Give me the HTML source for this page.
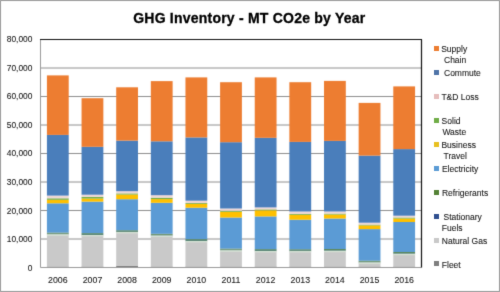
<!DOCTYPE html>
<html><head><meta charset="utf-8"><style>
html,body{margin:0;padding:0;background:#fff;}
body{width:500px;height:292px;position:relative;overflow:hidden;font-family:"Liberation Sans",sans-serif;}
#wrap{position:absolute;left:0;top:0;width:500px;height:292px;background:#fff;filter:url(#bl);}
#txt{position:absolute;left:0;top:0;width:500px;height:292px;filter:url(#bt);}
#frame{position:absolute;left:0;top:0;width:498px;height:290px;border:1px solid #8C8C8C;}
svg.c{position:absolute;left:0;top:0;}
.title{position:absolute;left:0;width:500px;top:9px;height:18px;line-height:18px;font-weight:bold;font-size:14px;letter-spacing:0.22px;color:#000;-webkit-text-stroke:0.3px #000;white-space:nowrap;}
.title span{position:absolute;left:133.2px;}
.yl{position:absolute;-webkit-text-stroke:0.1px #1C1C1C;left:0;width:32.4px;text-align:right;font-size:8.4px;line-height:12px;height:12px;color:#1C1C1C;}
.xl{position:absolute;-webkit-text-stroke:0.1px #1C1C1C;top:273.6px;width:30px;text-align:center;font-size:8.8px;line-height:12px;color:#1C1C1C;}
.sq{position:absolute;left:434.2px;width:5px;height:5px;}
.lg{position:absolute;-webkit-text-stroke:0.1px #1C1C1C;font-size:8.5px;line-height:10px;color:#1C1C1C;white-space:nowrap;}
</style></head><body>
<svg width="0" height="0" style="position:absolute"><defs><filter id="bl" x="0" y="0" width="500" height="292" filterUnits="userSpaceOnUse"><feConvolveMatrix color-interpolation-filters="sRGB" order="3" kernelMatrix="0.0144 0.0912 0.0144 0.0912 0.5776 0.0912 0.0144 0.0912 0.0144" edgeMode="none"/></filter><filter id="bt" x="0" y="0" width="500" height="292" filterUnits="userSpaceOnUse"><feConvolveMatrix color-interpolation-filters="sRGB" order="3" kernelMatrix="0.0100 0.0800 0.0100 0.0800 0.6400 0.0800 0.0100 0.0800 0.0100" edgeMode="none"/></filter></defs></svg>
<div id="wrap">
<div id="frame"></div>
<svg class="c" width="500" height="292" viewBox="0 0 500 292">
<line x1="40.5" y1="68.00" x2="421.5" y2="68.00" stroke="#8E8E8E" stroke-width="1"/>
<line x1="40.5" y1="96.50" x2="421.5" y2="96.50" stroke="#8E8E8E" stroke-width="1"/>
<line x1="40.5" y1="125.00" x2="421.5" y2="125.00" stroke="#8E8E8E" stroke-width="1"/>
<line x1="40.5" y1="153.50" x2="421.5" y2="153.50" stroke="#8E8E8E" stroke-width="1"/>
<line x1="40.5" y1="182.00" x2="421.5" y2="182.00" stroke="#8E8E8E" stroke-width="1"/>
<line x1="40.5" y1="210.50" x2="421.5" y2="210.50" stroke="#8E8E8E" stroke-width="1"/>
<line x1="40.5" y1="239.00" x2="421.5" y2="239.00" stroke="#8E8E8E" stroke-width="1"/>
<rect x="46.92" y="266.50" width="21.8" height="1.00" fill="#7F7F7F"/>
<rect x="46.92" y="234.40" width="21.8" height="32.10" fill="#C9C9C9"/>
<rect x="46.92" y="233.50" width="21.8" height="0.90" fill="#4A7A70"/>
<rect x="46.92" y="232.60" width="21.8" height="0.90" fill="#4A7C48"/>
<rect x="46.92" y="203.30" width="21.8" height="29.30" fill="#5B9BD5"/>
<rect x="46.92" y="199.80" width="21.8" height="3.50" fill="#FFC000"/>
<rect x="46.92" y="198.30" width="21.8" height="1.50" fill="#70AD47"/>
<rect x="46.92" y="195.60" width="21.8" height="2.70" fill="#F0D8D6"/>
<rect x="46.92" y="134.90" width="21.8" height="60.70" fill="#4A7EBB"/>
<rect x="46.92" y="75.40" width="21.8" height="59.50" fill="#ED7D31"/>
<rect x="46.92" y="234.40" width="21.8" height="1.30" fill="#D8E4D6"/>
<rect x="81.55" y="266.50" width="21.8" height="1.00" fill="#7F7F7F"/>
<rect x="81.55" y="235.00" width="21.8" height="31.50" fill="#C9C9C9"/>
<rect x="81.55" y="234.10" width="21.8" height="0.90" fill="#4A7A70"/>
<rect x="81.55" y="233.20" width="21.8" height="0.90" fill="#4A7C48"/>
<rect x="81.55" y="201.60" width="21.8" height="31.60" fill="#5B9BD5"/>
<rect x="81.55" y="198.50" width="21.8" height="3.10" fill="#FFC000"/>
<rect x="81.55" y="196.90" width="21.8" height="1.60" fill="#70AD47"/>
<rect x="81.55" y="194.70" width="21.8" height="2.20" fill="#F0D8D6"/>
<rect x="81.55" y="146.80" width="21.8" height="47.90" fill="#4A7EBB"/>
<rect x="81.55" y="98.20" width="21.8" height="48.60" fill="#ED7D31"/>
<rect x="81.55" y="235.00" width="21.8" height="1.30" fill="#D8E4D6"/>
<rect x="116.19" y="265.70" width="21.8" height="1.80" fill="#7F7F7F"/>
<rect x="116.19" y="232.10" width="21.8" height="33.60" fill="#C9C9C9"/>
<rect x="116.19" y="231.20" width="21.8" height="0.90" fill="#4A7A70"/>
<rect x="116.19" y="230.30" width="21.8" height="0.90" fill="#4A7C48"/>
<rect x="116.19" y="199.20" width="21.8" height="31.10" fill="#5B9BD5"/>
<rect x="116.19" y="194.50" width="21.8" height="4.70" fill="#FFC000"/>
<rect x="116.19" y="193.40" width="21.8" height="1.10" fill="#70AD47"/>
<rect x="116.19" y="191.20" width="21.8" height="2.20" fill="#F0D8D6"/>
<rect x="116.19" y="140.60" width="21.8" height="50.60" fill="#4A7EBB"/>
<rect x="116.19" y="87.30" width="21.8" height="53.30" fill="#ED7D31"/>
<rect x="116.19" y="232.10" width="21.8" height="1.30" fill="#D8E4D6"/>
<rect x="150.83" y="266.50" width="21.8" height="1.00" fill="#7F7F7F"/>
<rect x="150.83" y="235.60" width="21.8" height="30.90" fill="#C9C9C9"/>
<rect x="150.83" y="234.70" width="21.8" height="0.90" fill="#4A7A70"/>
<rect x="150.83" y="233.80" width="21.8" height="0.90" fill="#4A7C48"/>
<rect x="150.83" y="202.80" width="21.8" height="31.00" fill="#5B9BD5"/>
<rect x="150.83" y="199.10" width="21.8" height="3.70" fill="#FFC000"/>
<rect x="150.83" y="197.70" width="21.8" height="1.40" fill="#70AD47"/>
<rect x="150.83" y="195.20" width="21.8" height="2.50" fill="#F0D8D6"/>
<rect x="150.83" y="141.30" width="21.8" height="53.90" fill="#4A7EBB"/>
<rect x="150.83" y="81.10" width="21.8" height="60.20" fill="#ED7D31"/>
<rect x="150.83" y="235.60" width="21.8" height="1.30" fill="#D8E4D6"/>
<rect x="185.46" y="266.50" width="21.8" height="1.00" fill="#7F7F7F"/>
<rect x="185.46" y="241.00" width="21.8" height="25.50" fill="#C9C9C9"/>
<rect x="185.46" y="240.10" width="21.8" height="0.90" fill="#4A7A70"/>
<rect x="185.46" y="239.20" width="21.8" height="0.90" fill="#4A7C48"/>
<rect x="185.46" y="207.70" width="21.8" height="31.50" fill="#5B9BD5"/>
<rect x="185.46" y="204.00" width="21.8" height="3.70" fill="#FFC000"/>
<rect x="185.46" y="203.10" width="21.8" height="0.90" fill="#70AD47"/>
<rect x="185.46" y="200.70" width="21.8" height="2.40" fill="#F0D8D6"/>
<rect x="185.46" y="137.40" width="21.8" height="63.30" fill="#4A7EBB"/>
<rect x="185.46" y="77.40" width="21.8" height="60.00" fill="#ED7D31"/>
<rect x="185.46" y="241.00" width="21.8" height="1.30" fill="#D8E4D6"/>
<rect x="220.10" y="266.50" width="21.8" height="1.00" fill="#7F7F7F"/>
<rect x="220.10" y="250.40" width="21.8" height="16.10" fill="#C9C9C9"/>
<rect x="220.10" y="249.50" width="21.8" height="0.90" fill="#4A7A70"/>
<rect x="220.10" y="248.60" width="21.8" height="0.90" fill="#4A7C48"/>
<rect x="220.10" y="217.50" width="21.8" height="31.10" fill="#5B9BD5"/>
<rect x="220.10" y="211.80" width="21.8" height="5.70" fill="#FFC000"/>
<rect x="220.10" y="210.80" width="21.8" height="1.00" fill="#70AD47"/>
<rect x="220.10" y="208.50" width="21.8" height="2.30" fill="#F0D8D6"/>
<rect x="220.10" y="142.20" width="21.8" height="66.30" fill="#4A7EBB"/>
<rect x="220.10" y="82.20" width="21.8" height="60.00" fill="#ED7D31"/>
<rect x="220.10" y="250.40" width="21.8" height="1.30" fill="#D8E4D6"/>
<rect x="254.74" y="266.50" width="21.8" height="1.00" fill="#7F7F7F"/>
<rect x="254.74" y="251.00" width="21.8" height="15.50" fill="#C9C9C9"/>
<rect x="254.74" y="250.10" width="21.8" height="0.90" fill="#4A7A70"/>
<rect x="254.74" y="249.20" width="21.8" height="0.90" fill="#4A7C48"/>
<rect x="254.74" y="216.40" width="21.8" height="32.80" fill="#5B9BD5"/>
<rect x="254.74" y="210.30" width="21.8" height="6.10" fill="#FFC000"/>
<rect x="254.74" y="209.40" width="21.8" height="0.90" fill="#70AD47"/>
<rect x="254.74" y="207.40" width="21.8" height="2.00" fill="#F0D8D6"/>
<rect x="254.74" y="137.80" width="21.8" height="69.60" fill="#4A7EBB"/>
<rect x="254.74" y="77.40" width="21.8" height="60.40" fill="#ED7D31"/>
<rect x="254.74" y="251.00" width="21.8" height="1.30" fill="#D8E4D6"/>
<rect x="289.37" y="266.50" width="21.8" height="1.00" fill="#7F7F7F"/>
<rect x="289.37" y="251.10" width="21.8" height="15.40" fill="#C9C9C9"/>
<rect x="289.37" y="250.20" width="21.8" height="0.90" fill="#4A7A70"/>
<rect x="289.37" y="249.30" width="21.8" height="0.90" fill="#4A7C48"/>
<rect x="289.37" y="219.70" width="21.8" height="29.60" fill="#5B9BD5"/>
<rect x="289.37" y="214.80" width="21.8" height="4.90" fill="#FFC000"/>
<rect x="289.37" y="214.00" width="21.8" height="0.80" fill="#70AD47"/>
<rect x="289.37" y="211.50" width="21.8" height="2.50" fill="#F0D8D6"/>
<rect x="289.37" y="141.90" width="21.8" height="69.60" fill="#4A7EBB"/>
<rect x="289.37" y="82.20" width="21.8" height="59.70" fill="#ED7D31"/>
<rect x="289.37" y="251.10" width="21.8" height="1.30" fill="#D8E4D6"/>
<rect x="324.01" y="266.50" width="21.8" height="1.00" fill="#7F7F7F"/>
<rect x="324.01" y="250.80" width="21.8" height="15.70" fill="#C9C9C9"/>
<rect x="324.01" y="249.90" width="21.8" height="0.90" fill="#4A7A70"/>
<rect x="324.01" y="249.00" width="21.8" height="0.90" fill="#4A7C48"/>
<rect x="324.01" y="218.50" width="21.8" height="30.50" fill="#5B9BD5"/>
<rect x="324.01" y="214.50" width="21.8" height="4.00" fill="#FFC000"/>
<rect x="324.01" y="213.60" width="21.8" height="0.90" fill="#70AD47"/>
<rect x="324.01" y="211.50" width="21.8" height="2.10" fill="#F0D8D6"/>
<rect x="324.01" y="140.90" width="21.8" height="70.60" fill="#4A7EBB"/>
<rect x="324.01" y="80.90" width="21.8" height="60.00" fill="#ED7D31"/>
<rect x="324.01" y="250.80" width="21.8" height="1.30" fill="#D8E4D6"/>
<rect x="358.65" y="266.50" width="21.8" height="1.00" fill="#7F7F7F"/>
<rect x="358.65" y="262.50" width="21.8" height="4.00" fill="#C9C9C9"/>
<rect x="358.65" y="261.60" width="21.8" height="0.90" fill="#4A7A70"/>
<rect x="358.65" y="260.70" width="21.8" height="0.90" fill="#4A7C48"/>
<rect x="358.65" y="229.10" width="21.8" height="31.60" fill="#5B9BD5"/>
<rect x="358.65" y="225.40" width="21.8" height="3.70" fill="#FFC000"/>
<rect x="358.65" y="224.60" width="21.8" height="0.80" fill="#70AD47"/>
<rect x="358.65" y="222.70" width="21.8" height="1.90" fill="#F0D8D6"/>
<rect x="358.65" y="155.60" width="21.8" height="67.10" fill="#4A7EBB"/>
<rect x="358.65" y="102.90" width="21.8" height="52.70" fill="#ED7D31"/>
<rect x="358.65" y="262.50" width="21.8" height="1.30" fill="#D8E4D6"/>
<rect x="393.28" y="266.50" width="21.8" height="1.00" fill="#7F7F7F"/>
<rect x="393.28" y="253.80" width="21.8" height="12.70" fill="#C9C9C9"/>
<rect x="393.28" y="252.90" width="21.8" height="0.90" fill="#4A7A70"/>
<rect x="393.28" y="252.00" width="21.8" height="0.90" fill="#4A7C48"/>
<rect x="393.28" y="222.00" width="21.8" height="30.00" fill="#5B9BD5"/>
<rect x="393.28" y="218.50" width="21.8" height="3.50" fill="#FFC000"/>
<rect x="393.28" y="217.50" width="21.8" height="1.00" fill="#70AD47"/>
<rect x="393.28" y="215.70" width="21.8" height="1.80" fill="#F0D8D6"/>
<rect x="393.28" y="149.10" width="21.8" height="66.60" fill="#4A7EBB"/>
<rect x="393.28" y="86.40" width="21.8" height="62.70" fill="#ED7D31"/>
<rect x="393.28" y="253.80" width="21.8" height="1.30" fill="#D8E4D6"/>
<line x1="40.5" y1="39.5" x2="40.5" y2="267.5" stroke="#999999" stroke-width="1"/>
<line x1="40.5" y1="267.5" x2="421.5" y2="267.5" stroke="#999999" stroke-width="1"/>
<line x1="40.0" y1="39.5" x2="422.0" y2="39.5" stroke="#101010" stroke-width="1.2"/>
<line x1="421.5" y1="39.5" x2="421.5" y2="267.5" stroke="#101010" stroke-width="1.2"/>
</svg>
</div>
<div id="txt">
<div class="title"><span>GHG Inventory - MT CO2e by Year</span></div>
<div class="yl" style="top:32.9px">80,000</div>
<div class="yl" style="top:61.5px">70,000</div>
<div class="yl" style="top:90.2px">60,000</div>
<div class="yl" style="top:118.8px">50,000</div>
<div class="yl" style="top:147.4px">40,000</div>
<div class="yl" style="top:176.1px">30,000</div>
<div class="yl" style="top:204.7px">20,000</div>
<div class="yl" style="top:233.3px">10,000</div>
<div class="yl" style="top:261.9px">0</div>
<div class="xl" style="left:42.8px">2006</div>
<div class="xl" style="left:77.5px">2007</div>
<div class="xl" style="left:112.1px">2008</div>
<div class="xl" style="left:146.7px">2009</div>
<div class="xl" style="left:181.4px">2010</div>
<div class="xl" style="left:216.0px">2011</div>
<div class="xl" style="left:250.6px">2012</div>
<div class="xl" style="left:285.3px">2013</div>
<div class="xl" style="left:319.9px">2014</div>
<div class="xl" style="left:354.5px">2015</div>
<div class="xl" style="left:389.2px">2016</div>
<div class="sq" style="top:46.2px;background:#ED7D31"></div>
<div class="lg" style="left:441.2px;top:44.0px">Supply</div>
<div class="lg" style="left:444.0px;top:54.8px">Chain</div>
<div class="sq" style="top:70.0px;background:#4F74A8"></div>
<div class="lg" style="left:444.0px;top:68.2px">Commute</div>
<div class="sq" style="top:93.8px;background:#E6BDBC"></div>
<div class="lg" style="left:441.4px;top:92.1px">T&amp;D Loss</div>
<div class="sq" style="top:118.0px;background:#70AD47"></div>
<div class="lg" style="left:441.6px;top:115.9px">Solid</div>
<div class="lg" style="left:442.4px;top:127.1px">Waste</div>
<div class="sq" style="top:141.8px;background:#E8C020"></div>
<div class="lg" style="left:441.4px;top:139.9px">Business</div>
<div class="lg" style="left:443.6px;top:150.6px">Travel</div>
<div class="sq" style="top:165.8px;background:#5B9BD5"></div>
<div class="lg" style="left:441.9px;top:163.8px">Electricity</div>
<div class="sq" style="top:189.6px;background:#548235"></div>
<div class="lg" style="left:441.9px;top:187.8px">Refrigerants</div>
<div class="sq" style="top:213.8px;background:#2F4F8F"></div>
<div class="lg" style="left:443.6px;top:212.2px">Stationary</div>
<div class="lg" style="left:441.8px;top:222.8px">Fuels</div>
<div class="sq" style="top:237.6px;background:#C9C9C9"></div>
<div class="lg" style="left:441.8px;top:235.5px">Natural Gas</div>
<div class="sq" style="top:261.4px;background:#7F7F7F"></div>
<div class="lg" style="left:441.8px;top:259.6px">Fleet</div>
</div>
</body></html>
